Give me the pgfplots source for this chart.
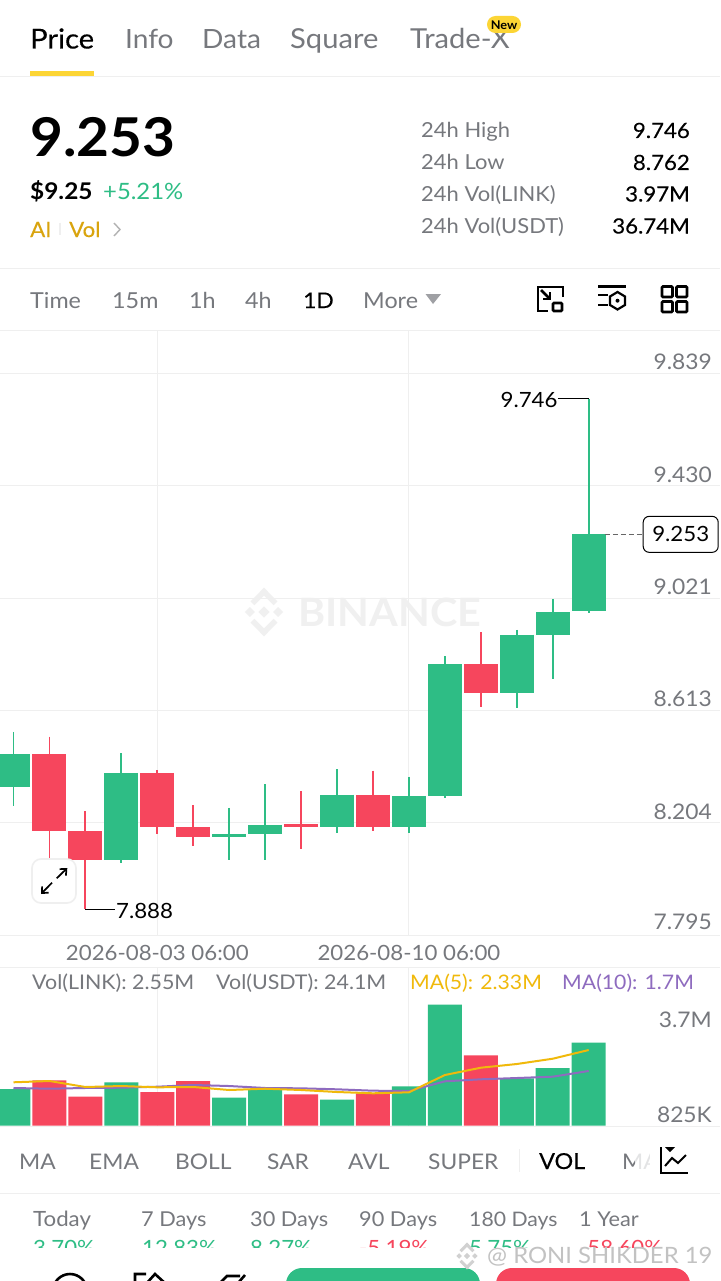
\documentclass[border=0pt]{standalone}
\usepackage{fontspec}
\usepackage{pgfplots}
\usepackage{pgfplotstable}
\pgfplotsset{compat=1.18}
\usetikzlibrary{arrows.meta}
\setmainfont{Lato}[FakeStretch=1.06]
\newfontfamily\medium{Lato}[FakeStretch=1.06,FakeBold=0.25]
\definecolor{up}{HTML}{2EBD85}
\definecolor{down}{HTML}{F6465D}
\definecolor{txt}{HTML}{76787D}
\definecolor{gridc}{HTML}{EFEFEF}
\definecolor{gold}{HTML}{FCD535}
\definecolor{amber}{HTML}{D9A40E}
\definecolor{maf}{HTML}{F0B90B}
\definecolor{mat}{HTML}{8E6BBF}
\newcommand{\fs}[1]{\fontsize{#1}{#1}\selectfont}
\newcommand{\T}[5][txt]{\node[anchor=base west,inner sep=0pt,text=#1,font=\fs{#4}] at (#2,-#3) {#5};}
\newcommand{\R}[5][black]{\node[anchor=base east,inner sep=0pt,text=#1,font=\fs{#4}] at (#2,-#3) {#5};}
\newcommand{\logo}[4]{%
 \begin{scope}[shift={(#1,-#2)},scale=#3,rotate=45]
  \fill[#4] (-.4,-.4) rectangle (.4,.4);
  \fill[#4] (-.2,1.15) rectangle (1.7,1.7); \fill[#4] (1.15,-.2) rectangle (1.7,1.7);
  \fill[#4] (-1.7,-1.7) rectangle (.2,-1.15); \fill[#4] (-1.7,-1.7) rectangle (-1.15,.2);
  \fill[#4] (-1.35,.65) rectangle (-.65,1.35);
  \fill[#4] (.65,-1.35) rectangle (1.35,-.65);
 \end{scope}}
% i open high low close
\pgfplotstableread{
i open high low close
0 8.335 8.534 8.264 8.452
3 8.069 8.456 8.058 8.385
6 8.151 8.258 8.069 8.163
7 8.163 8.343 8.069 8.196
9 8.189 8.399 8.167 8.306
11 8.189 8.371 8.167 8.301
12 8.302 8.810 8.292 8.780
14 8.675 8.905 8.622 8.888
15 8.888 9.018 8.728 8.970
16 8.973 9.746 8.968 9.253
}\greencandles
\pgfplotstableread{
i open high low close
1 8.452 8.517 8.022 8.172
2 8.173 8.246 7.888 8.069
4 8.385 8.394 8.164 8.189
5 8.188 8.268 8.120 8.151
8 8.198 8.319 8.107 8.188
10 8.306 8.393 8.175 8.189
13 8.780 8.897 8.626 8.675
}\redcandles
\pgfplotstableread{
i vol
0 1.939
3 2.143
6 1.675
7 1.930
9 1.614
11 2.021
12 4.499
14 2.264
15 2.577
16 3.345
}\greenvol
\pgfplotstableread{
i vol
1 2.203
2 1.705
4 1.848
5 2.182
8 1.778
10 1.809
13 2.962
}\redvol
\pgfplotstableread{
i ma5 ma10
0 2.143 1.970
1 2.182 1.948
2 2.000 1.970
3 2.030 1.979
4 1.991 2.009
5 2.000 2.061
6 1.909 2.030
7 1.948 1.970
8 1.909 1.960
9 1.848 1.930
10 1.809 1.888
11 1.839 1.878
12 2.364 2.173
13 2.586 2.234
14 2.698 2.273
15 2.859 2.313
16 3.123 2.486
}\mavol
\begin{document}
\begin{tikzpicture}[x=1pt,y=1pt]
\useasboundingbox (0,0) rectangle (720,-1281);
\clip (0,0) rectangle (720,-1281);
\fill[white] (0,0) rectangle (720,-1281);
% tabs
\T[black]{30}{48.5}{27.5}{\medium Price}
\T{125}{48.5}{26.5}{Info}
\T{202}{48.5}{26.5}{Data}
\T{290}{48.5}{27.5}{Square}
\T{410}{48.5}{27.5}{Trade-X}
\fill[gold] (30,-71) rectangle (94,-76);
\draw[gridc,line width=1pt] (0,-76.5) -- (720,-76.5);
\fill[gold,rounded corners=8.5pt] (487,-16) rectangle (521,-33);
\node[inner sep=0pt,font=\fs{12}\bfseries,text=black] at (504,-25) {New};
% price block
\T[black]{30}{157}{53.5}{\bfseries 9.253}
\T[black]{30}{200}{23}{\bfseries \$9.25}
\T[up]{103}{200}{22.5}{+5.21\%}
\T[amber]{30}{237}{21}{\medium AI}
\draw[gridc,line width=1.5pt] (60,-223) -- (60,-235);
\T[amber]{69}{237}{21}{\medium Vol}
\draw[black!30,line width=1.4pt] (114,-223) -- (120,-229.5) -- (114,-236);
\T{421}{138}{20.7}{24h High}
\T{421}{170}{20.7}{24h Low}
\T{421}{201.5}{20.7}{24h Vol(LINK)}
\T{421}{233.5}{20.7}{24h Vol(USDT)}
\R{690}{138}{21}{\medium 9.746}
\R{690}{170}{21}{\medium 8.762}
\R{690}{201.5}{21}{\medium 3.97M}
\R{690}{233.5}{21}{\medium 36.74M}
\draw[gridc,line width=1pt] (0,-268.5) -- (720,-268.5);
% interval row
\T{30}{308}{22}{Time}
\T{112}{308}{22}{15m}
\T{189}{308}{22}{1h}
\T{245}{308}{22}{4h}
\T[black]{303}{308}{21.5}{\medium 1D}
\T{363}{308}{22}{More}
\fill[txt!70] (425.5,-294) -- (441,-294) -- (433,-304) -- cycle;
% icons
\begin{scope}[black,line width=2.6pt]
 \draw (563,-297) -- (563,-287) -- (538,-287) -- (538,-311) -- (548,-311);
 \draw[rounded corners=1pt] (553,-303) rectangle (562,-311);
 \draw (541,-290) -- (550,-299);
 \draw (550,-292) -- (550,-299) -- (543,-299);
 \draw (598,-286.5) -- (626,-286.5);
 \draw (598,-295) -- (608,-295);
 \draw (598,-305) -- (608,-305);
 \draw[line width=2.2pt] (617.5,-292) -- (625,-296.5) -- (625,-305) -- (617.5,-309.5) -- (610,-305) -- (610,-296.5) -- cycle;
 \fill (617.5,-300.7) circle (2pt);
 \draw[rounded corners=1pt] (662,-286.5) rectangle (672.5,-297);
 \draw[rounded corners=1pt] (676.5,-286.5) rectangle (687,-297);
 \draw[rounded corners=1pt] (662,-301.5) rectangle (672.5,-312);
 \draw[rounded corners=1pt] (676.5,-301.5) rectangle (687,-312);
\end{scope}
\draw[gridc,line width=1pt] (0,-330) -- (720,-330);
\draw[gridc,line width=1pt] (0,-967) -- (720,-967);
% watermark
\logo{264}{612}{10}{black!6}
\node[anchor=west,inner sep=0pt,font=\fs{39}\bfseries,text=black!6] at (298,-612) {BINANCE};
% price axis
\begin{axis}[
 at={(0pt,-935pt)},anchor=south west,scale only axis,
 width=720pt,height=605pt,
 xmin=-0.3755,xmax=19.653,ymin=7.795,ymax=9.9966,
 axis line style={draw=none},
 major tick length=0pt,
 grid=major,grid style={gridc,line width=1pt},
 xtick={4,11},xticklabels={2026-08-03 06:00,2026-08-10 06:00},
 ytick={7.795,8.204,8.613,9.021,9.430,9.839},
 yticklabels={\raisebox{2pt}{7.795},8.204,8.613,9.021,9.430,9.839},
 yticklabel pos=right,
 yticklabel style={anchor=south east,inner sep=0pt,xshift=-8pt,yshift=3pt,font=\fs{21.5},text=txt},
 xticklabel style={inner sep=0pt,yshift=-10pt,font=\fs{21},text=txt},
 clip=true,
]
% wicks
\addplot[up,draw=none,no markers,forget plot,error bars/.cd,y dir=minus,y explicit,error mark=none,error bar style={draw=up,line width=1.8pt}]
 table[x=i,y=high,y error minus expr=\thisrow{high}-\thisrow{low}] {\greencandles};
\addplot[down,draw=none,no markers,forget plot,error bars/.cd,y dir=minus,y explicit,error mark=none,error bar style={draw=down,line width=1.8pt}]
 table[x=i,y=high,y error minus expr=\thisrow{high}-\thisrow{low}] {\redcandles};
% bodies
\addplot[up,draw=none,no markers,forget plot,error bars/.cd,y dir=minus,y explicit,error mark=none,error bar style={draw=up,line width=34pt}]
 table[x=i,y=close,y error minus expr=\thisrow{close}-\thisrow{open}] {\greencandles};
\addplot[down,draw=none,no markers,forget plot,error bars/.cd,y dir=minus,y explicit,error mark=none,error bar style={draw=down,line width=34pt}]
 table[x=i,y=open,y error minus expr=\thisrow{open}-\thisrow{close}] {\redcandles};
% annotations
\addplot[black,line width=1pt,forget plot] coordinates {(15.146,9.746)(16,9.746)};
\addplot[black,line width=1pt,forget plot] coordinates {(2,7.888)(2.82,7.888)};
\addplot[black!60,line width=1.4pt,dash pattern=on 5pt off 3pt,forget plot] coordinates {(16.45,9.253)(17.51,9.253)};
\node[anchor=east,inner sep=0pt,font=\fs{21},text=black] at (axis cs:15.14,9.741) {9.746};
\node[anchor=west,inner sep=0pt,font=\fs{21},text=black] at (axis cs:2.85,7.883) {7.888};
\node[anchor=center,draw=black,fill=white,rounded corners=6pt,line width=1pt,minimum width=75pt,minimum height=36pt,inner sep=0pt,font=\fs{21},text=black] at (axis cs:18.56,9.253) {9.253};
\end{axis}
% expand button
\draw[gridc,fill=white,line width=1.6pt,rounded corners=9pt] (32,-859) rectangle (76,-903);
\draw[black,line width=1.7pt,-{Straight Barb[length=5pt,width=9pt]}] (52,-882.7) -- (41,-894);
\draw[black,line width=1.7pt,-{Straight Barb[length=5pt,width=9pt]}] (56.7,-878.3) -- (67.3,-868);
% volume axis
\begin{axis}[
 at={(0pt,-1125.7pt)},anchor=south west,scale only axis,
 width=720pt,height=158.7pt,
 xmin=-0.3755,xmax=19.653,ymin=0.825,ymax=5.643,
 axis line style={draw=none},
 major tick length=0pt,
 xmajorgrids=true,grid style={gridc,line width=1pt},
 xtick={4,11},xticklabels={},
 ytick={0.825,3.7},yticklabels={825K,3.7M},
 yticklabel pos=right,
 yticklabel style={anchor=south east,inner sep=0pt,xshift=-8pt,yshift=3pt,font=\fs{21.5},text=txt},
 ybar,bar width=34pt,
 clip=true,
]
\addplot[fill=up,draw=none,bar shift=0pt,forget plot] table[x=i,y=vol] {\greenvol};
\addplot[fill=down,draw=none,bar shift=0pt,forget plot] table[x=i,y=vol] {\redvol};
\addplot[sharp plot,mat,line width=2pt,no marks,forget plot] table[x=i,y=ma10] {\mavol};
\addplot[sharp plot,maf,line width=2pt,no marks,forget plot] table[x=i,y=ma5] {\mavol};
\end{axis}
% volume header
\T{32}{989}{20.2}{Vol(LINK): 2.55M}
\T{216}{989}{20.2}{Vol(USDT): 24.1M}
\T[maf]{410}{989}{20}{MA(5): 2.33M}
\T[mat]{562}{989}{20}{MA(10): 1.7M}
\draw[gridc,line width=1pt] (0,-1126.5) -- (720,-1126.5);
% indicators row
\T{19}{1169}{21.5}{MA}
\T{89}{1169}{21.5}{EMA}
\T{175}{1169}{21.5}{BOLL}
\T{267}{1169}{21.5}{SAR}
\T{348}{1169}{21.5}{AVL}
\T{428}{1169}{21.5}{SUPER}
\draw[gridc,line width=1pt] (519.5,-1149) -- (519.5,-1172);
\T[black]{539}{1169}{22}{\medium VOL}
\T{622}{1169}{21.5}{MA}
\shade[left color=white!0,right color=white,opacity=0.8] (635,-1145) rectangle (650,-1175);
\fill[white] (650,-1140) rectangle (700,-1180);
\begin{scope}[black,line width=2pt]
 \draw (661,-1147) -- (661,-1172.5) -- (688,-1172.5);
 \draw (665,-1166) -- (672,-1158) -- (678,-1163) -- (686,-1155);
 \fill (665,-1147) -- (675,-1147) -- (670,-1152) -- cycle;
\end{scope}
\draw[gridc,line width=1pt] (0,-1193.5) -- (720,-1193.5);
% periods
\T{33}{1226}{21}{Today}
\T{141}{1226}{20.5}{7 Days}
\T{250}{1226}{20.5}{30 Days}
\T{359}{1226}{20.5}{90 Days}
\T{469}{1226}{20}{180 Days}
\T{579}{1226}{20.5}{1 Year}
\begin{scope}
 \clip (0,-1235) rectangle (720,-1247);
 \T[up]{33}{1255.5}{21}{3.70\%}
 \T[up]{142}{1255.5}{21}{12.83\%}
 \T[up]{250}{1255.5}{21}{8.27\%}
 \T[down]{359}{1255.5}{21}{-5.19\%}
 \T[up]{469}{1255.5}{21}{5.75\%}
 \T[down]{579}{1255.5}{21}{-58.60\%}
\end{scope}
% bottom bar
\fill[up,rounded corners=16pt] (286,-1268) rectangle (480,-1310);
\fill[down,rounded corners=16pt] (496,-1268) rectangle (690,-1310);
\draw[black,line width=2.6pt] (70,-1291) circle (17);
\draw[black,line width=2.6pt] (135,-1290) -- (135,-1274) -- (146,-1274) (146,-1284) -- (155,-1274) -- (166,-1284) -- (166,-1290);
\draw[black,line width=2.6pt] (218,-1285) -- (227,-1276) -- (240,-1276) (232,-1290) -- (245,-1275);
% credit
\logo{467}{1256}{5.6}{black!18}
\node[anchor=west,inner sep=0pt,font=\fs{22.5},text=black!24] at (487,-1257) {@ RONI SHIKDER 19};
\end{tikzpicture}
\end{document}
